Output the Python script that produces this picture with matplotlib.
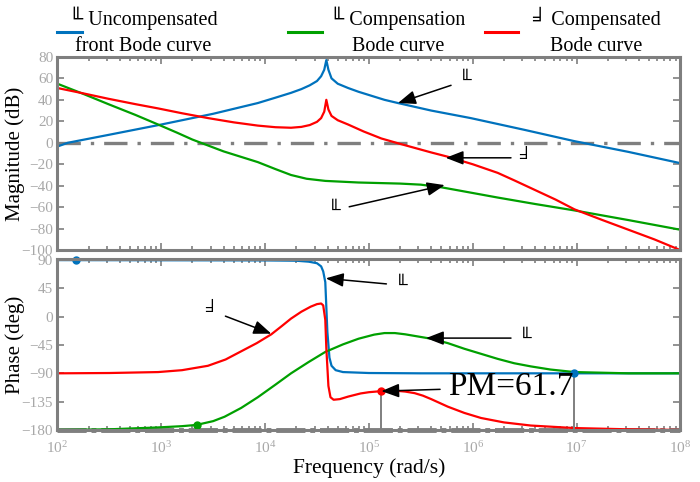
import matplotlib

matplotlib.use("Agg")

import matplotlib.pyplot as plt
import numpy as np
from matplotlib.lines import Line2D

plt.rcParams["font.family"] = ["Liberation Serif", "DejaVu Sans"]
plt.rcParams["mathtext.fontset"] = "stix"

# log10 of frequency (rad/s) and values
blue_mag_lw = [2.0, 2.1, 2.5, 3.0, 3.5, 3.93, 4.1, 4.25, 4.35, 4.43, 4.5, 4.54, 4.57, 4.59, 4.61, 4.64,
               4.7, 4.8, 4.9, 5.0, 5.15, 5.28, 5.6, 5.98, 6.5, 6.98, 7.5, 8.0]
blue_mag = [-3.5, 0, 7.5, 17, 27, 37, 42, 46.5, 50, 53.5, 57.5, 62, 68, 77, 68, 60,
            55, 51, 47.5, 44.5, 40, 37, 30, 23, 12, 1.5, -8.5, -19]

red_mag_lw = [2.0, 2.25, 2.49, 2.75, 2.97, 3.2, 3.45, 3.7, 3.93, 4.1, 4.25, 4.35, 4.43, 4.5, 4.54, 4.57,
              4.59, 4.61, 4.64, 4.7, 4.8, 4.95, 5.12, 5.3, 5.45, 5.6, 5.76, 6.0, 6.24, 6.4, 6.6, 6.8,
              6.98, 7.25, 7.5, 7.75, 8.0]
red_mag = [51, 46, 41, 36, 32, 27.5, 23, 19, 16, 14.5, 14, 14.8, 16.5, 19.5, 23, 29,
           40, 31, 25, 21, 17, 10.5, 4, -1, -5, -9, -13, -20, -28, -35, -44, -53,
           -62, -72, -81, -90, -100]

green_mag_lw = [2.0, 2.25, 2.49, 2.75, 2.97, 3.15, 3.3, 3.45, 3.6, 3.93, 4.1, 4.25, 4.4, 4.58, 4.9, 5.3,
                5.5, 5.7, 5.9, 6.24, 6.6, 6.98, 7.5, 8.0]
green_mag = [55, 45.5, 36, 26, 17, 9.5, 3, -2.5, -8, -18, -24.5, -30, -33.5, -35.5, -37, -38,
             -39, -41.5, -45, -51, -57, -63, -72, -81]

blue_ph_lw = [2.0, 4.0, 4.3, 4.42, 4.5, 4.54, 4.56, 4.58, 4.6, 4.62, 4.64, 4.68, 4.75, 5.0, 5.5, 8.0]
blue_ph = [90, 89.5, 89, 87.5, 85, 80, 72, 55, -24, -65, -78, -85, -88, -89.5, -90, -90]

red_ph_lw = [2.0, 2.5, 2.97, 3.2, 3.45, 3.62, 3.77, 3.92, 4.06, 4.16, 4.25, 4.35, 4.44, 4.5, 4.54, 4.56,
             4.58, 4.59, 4.61, 4.63, 4.66, 4.72, 4.8, 4.92, 5.0, 5.12, 5.25, 5.35, 5.44, 5.52, 5.6,
             5.76, 5.92, 6.08, 6.3, 6.56, 6.98, 7.5, 8.0]
red_ph = [-90, -89.5, -88, -85, -78, -68, -55, -42, -28, -15, -3, 8, 16, 20, 21, 18,
          -5, -50, -110, -128, -132, -131, -127, -122, -120, -118.3, -117.5, -119, -121.5, -125.5, -131,
          -143, -153, -161, -168, -173, -177, -179, -180]

green_ph_lw = [2.0, 2.5, 2.97, 3.2, 3.34, 3.5, 3.61, 3.77, 3.93, 4.1, 4.25, 4.42, 4.58, 4.75, 4.9, 5.05,
               5.15, 5.25, 5.35, 5.6, 5.76, 5.92, 6.08, 6.24, 6.4, 6.56, 6.75, 6.98, 7.5, 8.0]
green_ph = [-180, -179, -176, -174, -172, -166, -159, -145, -128, -108, -90, -72, -56, -44, -35, -28.5,
            -26, -26, -28, -35, -42, -51, -59, -67, -74, -79, -84, -88, -90, -90]

pm_lw, pm_val = 5.12, -118.3
pc_lw = 6.98
green_dot = (3.34, -172)
blue_dot = (2.18, 90)

legend_labels = ["\u2559 Uncompensated\nfront Bode curve",
                 "\u2559 Compensation\nBode curve",
                 "\u255b Compensated\nBode curve"]

BLUE = "#0072BD"
GREEN = "#00A000"
RED = "#FF0000"
GRAY = "#7f7f7f"
TICKGRAY = "#a8a8a8"

fig = plt.figure(figsize=(7, 4.82), dpi=100)
ax1 = fig.add_axes([0.082, 0.481, 0.89, 0.401])
ax2 = fig.add_axes([0.082, 0.108, 0.89, 0.355])


def f(lw):
    return 10 ** np.asarray(lw, dtype=float)


def minus(vals):
    return [str(v).replace("-", "\u2212") for v in vals]


for ax in (ax1, ax2):
    ax.set_xscale("log")
    ax.set_xlim(1e2, 1e8)
    for s in ax.spines.values():
        s.set_color(GRAY)
        s.set_linewidth(2.2)
    ax.tick_params(which="both", direction="in", top=True, right=True, color=GRAY,
                   labelcolor=TICKGRAY, labelsize=11, width=1.2, pad=3)
    ax.tick_params(which="major", length=5)
    ax.tick_params(which="minor", length=3)

# magnitude
ax1.plot(f(blue_mag_lw), blue_mag, color=BLUE, lw=1.6)
ax1.plot(f(green_mag_lw), green_mag, color=GREEN, lw=1.6)
ax1.plot(f(red_mag_lw), red_mag, color=RED, lw=1.6)
ax1.axhline(0, color=GRAY, lw=2.4, ls=(0, (7, 3, 1, 3)), zorder=1)
ax1.set_ylim(-100, 80)
ax1.set_yticks(np.arange(-100, 81, 20))
ax1.set_yticklabels(minus(range(-100, 81, 20)))
ax1.tick_params(labelbottom=False)
ax1.set_ylabel("Magnitude (dB)", fontsize=15)
ax1.yaxis.set_label_coords(-0.052, 0.5)

# phase
ax2.plot(f(blue_ph_lw), blue_ph, color=BLUE, lw=1.6)
ax2.plot(f(green_ph_lw), green_ph, color=GREEN, lw=1.6)
ax2.plot(f(red_ph_lw), red_ph, color=RED, lw=1.6)
ax2.axhline(-180, color=GRAY, lw=3.5, ls=(0, (6, 1, 1, 1)), zorder=1, clip_on=False)
ax2.plot([10 ** pm_lw] * 2, [pm_val, -180], color=GRAY, lw=1.4)
ax2.plot([10 ** pc_lw] * 2, [-90, -180], color=GRAY, lw=1.4)
ax2.plot(10 ** pm_lw, pm_val, "o", color=RED, ms=5)
ax2.plot(10 ** pc_lw, -90, "o", color=BLUE, ms=5)
ax2.plot(10 ** green_dot[0], green_dot[1], "o", color=GREEN, ms=5)
ax2.plot(10 ** blue_dot[0], blue_dot[1], "o", color=BLUE, ms=5, clip_on=False)
ax2.set_ylim(-180, 92)
ax2.set_yticks(np.arange(-180, 91, 45))
ax2.set_yticklabels(minus(range(-180, 91, 45)))
ax2.tick_params(axis="x", pad=7)
ax2.set_ylabel("Phase (deg)", fontsize=15)
ax2.yaxis.set_label_coords(-0.052, 0.5)
ax2.set_xlabel("Frequency (rad/s)", fontsize=15.5, labelpad=2)

arrow = dict(arrowstyle="-|>,head_length=0.9,head_width=0.35", color="black", lw=1.1,
             shrinkA=4, shrinkB=0, mutation_scale=12)
mk = "\u2559"
mk2 = "\u255b"
notes = [
    (ax1, mk, (5.28, 37), (5.93, 58)),
    (ax1, mk2, (5.74, -14), (6.51, -14)),
    (ax1, mk, (5.73, -39.4), (4.67, -62.7)),
    (ax2, mk, (4.585, 61), (5.31, 50)),
    (ax2, mk, (5.55, -34), (6.51, -34)),
    (ax2, mk2, (4.06, -27), (3.48, 9.6)),
]
for ax, txt, tip, pos in notes:
    ax.annotate(txt, xy=(10 ** tip[0], tip[1]), xytext=(10 ** pos[0], pos[1]), fontsize=13,
                ha="center", va="center", arrowprops=arrow)
ax2.annotate("PM=61.7", xy=(10 ** pm_lw, pm_val), xytext=(10 ** 6.37, -112), fontsize=24,
             ha="center", va="center", arrowprops=arrow)

# legend, laid out by hand to follow the reference
handle_x = [(57, 82), (288, 322), (485, 518)]
text_x = [143, 398, 596]
W, H = 700, 482
for (x0, x1), tx, lab, c in zip(handle_x, text_x, legend_labels, (BLUE, GREEN, RED)):
    fig.add_artist(Line2D([x0 / W, x1 / W], [1 - 32 / H] * 2, color=c, lw=2.2,
                          transform=fig.transFigure))
    fig.text(tx / W, 1 - 31 / H, lab, ha="center", va="center", multialignment="center",
             fontsize=14.5, linespacing=1.5)

fig.savefig("out.png", dpi=100)
plt.close(fig)
